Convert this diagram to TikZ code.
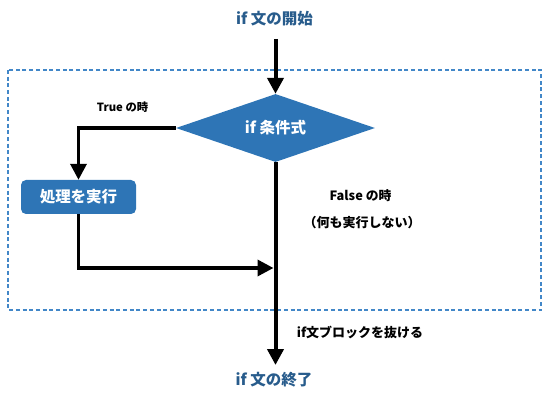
\documentclass[tikz,border=0pt]{standalone}
\usepackage{fontspec}
\setmainfont{Noto Sans CJK JP}
\usetikzlibrary{shapes.geometric,arrows.meta}
\definecolor{titleblue}{RGB}{40,92,140}
\definecolor{fillblue}{RGB}{46,117,182}
\definecolor{dashblue}{RGB}{66,135,200}
\tikzset{
  lbl/.style={font=\bfseries\fontsize{13}{16}\selectfont, text=black, inner sep=0pt},
  ttl/.style={font=\bfseries\fontsize{15.5}{18}\selectfont, text=titleblue, inner sep=0pt},
  flow/.style={line width=3.5pt, draw=black, -{Triangle[width=16pt,length=16pt]}},
  flowthick/.style={line width=4pt, draw=black, -{Triangle[width=16pt,length=16pt]}},
  condshape/.style={diamond, aspect=2.93, fill=fillblue, inner sep=0pt, minimum width=199pt, minimum height=68pt, text=white, font=\bfseries\fontsize{15.5}{18}\selectfont},
  procbox/.style={rectangle, rounded corners=5pt, fill=fillblue, minimum width=115pt, minimum height=34pt, inner sep=0pt, text=white, font=\bfseries\fontsize{15.5}{18}\selectfont},
  blockframe/.style={draw=dashblue, line width=1.5pt, dash pattern=on 4pt off 2.7pt}
}
\begin{document}
\begin{tikzpicture}[x=1pt,y=-1pt]
\useasboundingbox (0,0) rectangle (550,404);
\draw[blockframe] (8,70) rectangle (541,310);
\node[ttl] (start) at (274.5,19) {if 文の開始};
\coordinate (a0) at (275.5,39);
\node[condshape] (cond) at (275.5,128) {if 条件式};
\node[procbox] (proc) at (78.5,197) {処理を実行};
\coordinate (merge) at (273.5,268);
\coordinate (endc) at (275.5,365);
\node[ttl] (finish) at (274,380) {if 文の終了};
\node[lbl, font=\bfseries\fontsize{11.3}{14}\selectfont] (truel) at (122.5,107) {True の時};
\node[lbl, font=\bfseries\fontsize{12.8}{15}\selectfont] (falsel) at (360.5,196) {False の時};
\node[lbl] (nothing) at (362,223) {（何も実行しない）};
\node[lbl] (exitl) at (360,332) {if文ブロックを抜ける};
\draw[flowthick] (a0) -- (cond.north);
\draw[flow] (cond.west) -| (proc.north);
\draw[flow] (proc.south) |- (merge);
\draw[flowthick] (cond.south) -- (endc);
\end{tikzpicture}
\end{document}
